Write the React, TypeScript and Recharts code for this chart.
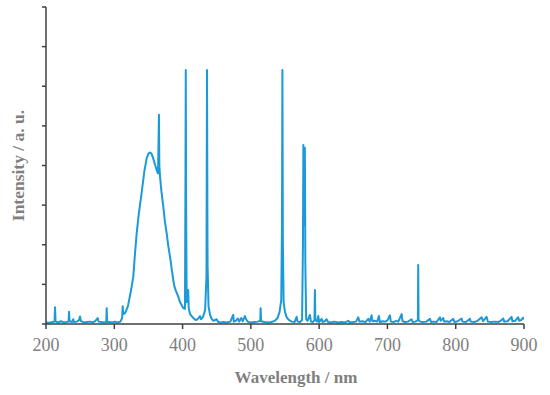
import { LineChart, Line, XAxis, YAxis } from "recharts";

// wavelength (nm) and emission intensity (a. u.)
const wavelengths = [
  200, 205, 210, 212.5, 213.2, 214, 218, 222, 226, 230, 233, 233.7, 234.5, 238, 240, 241, 245, 248, 249.8, 251,
  255, 260, 265, 268, 272, 275.7, 277, 281, 285, 288.3, 288.9, 289.6, 293, 297, 301, 305, 309, 311.5, 312.3, 313.2,
  316, 320, 324, 327.8, 330, 332.8, 336, 340, 344, 347.4, 350, 352.3, 354.5, 357, 360, 362, 364, 364.8, 365.4, 366,
  367, 369, 371.8, 374, 376.7, 379, 381.6, 384, 386.4, 388, 390, 393.7, 396, 398.6, 401, 403.5, 404.2, 404.7, 405.2, 406,
  407.5, 408.2, 409, 411, 415.7, 419, 422, 425.5, 427, 430, 433, 435, 435.8, 436.6, 438, 440, 442, 445, 449.9, 452,
  456, 460, 465, 470, 474.2, 475, 478, 481, 483, 486, 488, 491.3, 493, 496, 500, 505, 510, 513.8, 514.3, 515,
  520, 525, 530, 535, 539, 542, 544.5, 545.6, 546.2, 546.9, 548, 550, 553, 556, 560, 564, 567, 568.5, 572, 575,
  576.3, 576.9, 577.6, 578.4, 579.1, 579.8, 581, 583, 586.5, 588, 591, 593.2, 593.8, 594.4, 597, 598.7, 600, 603.6, 605, 608,
  610.9, 613, 618, 622, 628, 633, 638, 642.6, 645, 650, 654, 657.3, 659, 663, 668, 671.9, 674, 676.8, 678, 682,
  685, 687.5, 689, 693, 697, 700, 703.7, 705, 709, 713, 716, 720.8, 722, 726, 730, 735.4, 737, 741, 744.6, 745.1,
  745.6, 748, 752, 757, 762.2, 764, 768, 772, 776.9, 778, 781.7, 783, 787, 791, 796.4, 798, 803, 808.6, 810, 815,
  820.8, 822, 827, 832, 837.9, 840, 845.2, 847, 852, 857, 862, 866, 869.6, 871, 876, 881.8, 883, 887, 891.5, 893,
  896, 898.8, 900,
];

const intensities = [
  0.04, 0.03, 0.05, 0.06, 0.42, 0.06, 0.04, 0.07, 0.04, 0.05, 0.06, 0.31, 0.07, 0.05, 0.12, 0.05, 0.06, 0.09, 0.19, 0.08,
  0.04, 0.05, 0.06, 0.04, 0.07, 0.15, 0.06, 0.05, 0.04, 0.05, 0.4, 0.05, 0.05, 0.04, 0.06, 0.04, 0.06, 0.15, 0.45, 0.25,
  0.28, 0.45, 0.8, 1.19, 1.7, 2.29, 2.8, 3.3, 3.85, 4.18, 4.3, 4.33, 4.3, 4.18, 4.0, 3.89, 3.8, 4.6, 5.28, 4.0,
  3.72, 3.35, 2.96, 2.6, 2.29, 1.98, 1.7, 1.4, 1.11, 0.95, 0.85, 0.69, 0.56, 0.48, 0.4, 0.38, 3.5, 6.41, 3.0, 0.55,
  0.7, 0.86, 0.4, 0.25, 0.15, 0.1, 0.12, 0.2, 0.12, 0.18, 0.35, 1.2, 6.41, 1.5, 0.45, 0.25, 0.15, 0.08, 0.12, 0.05,
  0.04, 0.05, 0.04, 0.06, 0.23, 0.06, 0.08, 0.14, 0.06, 0.15, 0.07, 0.2, 0.12, 0.05, 0.04, 0.05, 0.06, 0.08, 0.4, 0.07,
  0.05, 0.04, 0.05, 0.08, 0.15, 0.3, 0.6, 2.5, 6.41, 2.0, 0.55, 0.3, 0.15, 0.1, 0.06, 0.05, 0.18, 0.06, 0.05, 0.1,
  2.0, 4.52, 2.5, 3.0, 4.45, 1.5, 0.12, 0.08, 0.23, 0.06, 0.05, 0.1, 0.86, 0.1, 0.06, 0.2, 0.05, 0.13, 0.05, 0.07,
  0.12, 0.05, 0.04, 0.06, 0.04, 0.05, 0.04, 0.08, 0.04, 0.05, 0.06, 0.17, 0.06, 0.07, 0.05, 0.13, 0.06, 0.22, 0.07, 0.08,
  0.06, 0.2, 0.05, 0.07, 0.06, 0.09, 0.22, 0.06, 0.05, 0.08, 0.06, 0.25, 0.07, 0.05, 0.06, 0.12, 0.05, 0.06, 0.1, 1.49,
  0.1, 0.06, 0.05, 0.06, 0.13, 0.05, 0.06, 0.05, 0.17, 0.08, 0.15, 0.06, 0.07, 0.05, 0.13, 0.05, 0.07, 0.14, 0.06, 0.05,
  0.13, 0.06, 0.05, 0.08, 0.17, 0.07, 0.18, 0.06, 0.05, 0.06, 0.05, 0.08, 0.14, 0.06, 0.07, 0.18, 0.07, 0.08, 0.17, 0.08,
  0.1, 0.16, 0.12,
];

const xTicks = [200, 300, 400, 500, 600, 700, 800, 900];
const yTicks = [0, 1, 2, 3, 4, 5, 6, 7, 8];

const data = wavelengths.map((wl, i) => ({ wl, intensity: intensities[i] }));

const FONT = '"Liberation Serif", "Times New Roman", serif';
const AXIS = "#404040";
const GREY = "#7f7f7f";

// y axis keeps its tick marks but shows no numbers
const NoLabel = () => <g />;

export default function App() {
  return (
    <div style={{ position: "absolute", left: 0, top: 0, width: 550, height: 395, background: "#fff" }}>
      <LineChart
        width={550}
        height={395}
        data={data}
        margin={{ top: 7, right: 26, left: 45, bottom: 70 }}
        style={{ fontFamily: FONT }}
      >
        <XAxis
          type="number"
          dataKey="wl"
          domain={[200, 900]}
          ticks={xTicks}
          allowDataOverflow
          height={1}
          stroke={AXIS}
          strokeWidth={1.5}
          tickSize={5}
          tickMargin={9}
          tick={{ fill: GREY, fontSize: 18, fontFamily: FONT }}
          label={{
            value: "Wavelength / nm",
            position: "bottom",
            offset: 46,
            dx: 11,
            fill: GREY,
            fontSize: 17,
            fontWeight: "bold",
            fontFamily: FONT,
          }}
        />
        <YAxis
          type="number"
          domain={[0, 8]}
          ticks={yTicks}
          allowDataOverflow
          width={1}
          stroke={AXIS}
          strokeWidth={1.5}
          tickSize={4}
          tick={NoLabel}
          label={{
            value: "Intensity / a. u.",
            angle: -90,
            position: "center",
            dx: -28,
            fill: GREY,
            fontSize: 17.5,
            fontWeight: "bold",
            fontFamily: FONT,
          }}
        />
        <Line
          type="linear"
          dataKey="intensity"
          stroke="#1a9ad8"
          strokeWidth={2}
          strokeLinejoin="round"
          dot={false}
          isAnimationActive={false}
        />
      </LineChart>
    </div>
  );
}
